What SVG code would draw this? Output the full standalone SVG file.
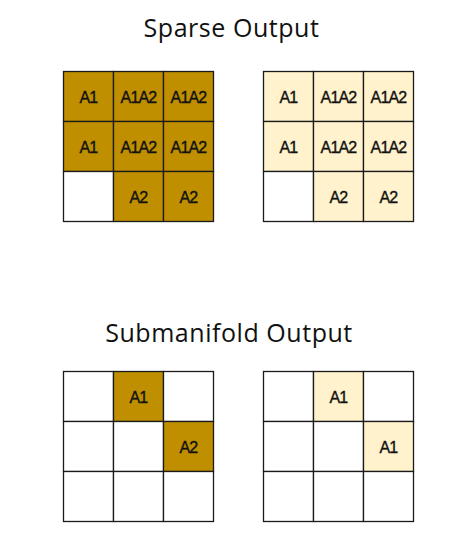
<svg xmlns="http://www.w3.org/2000/svg" width="468" height="534" viewBox="0 0 468 534">
<style>
.t{font-family:"Open Sans","Liberation Sans",sans-serif;font-size:25px;letter-spacing:0.55px;fill:#111;text-anchor:middle}
.c{stroke:#1a1a1a;stroke-width:1.3}
.d{fill:#BF8F00}
.l{fill:#FFF2CC}
.w{fill:#ffffff}
.x{font-family:"Liberation Sans",Arial,sans-serif;font-size:16px;letter-spacing:-0.8px;fill:#111;stroke:#111;stroke-width:0.35;text-anchor:middle}
</style>
<rect width="468" height="534" fill="#ffffff"/>
<text class="t" x="231.5" y="37">Sparse Output</text>
<text class="t" x="229" y="342">Submanifold Output</text>
<g id="sparse-dark">
<rect class="c d" x="63.5" y="71.5" width="50" height="50"/><text class="x" x="88.5" y="102.5">A1</text>
<rect class="c d" x="113.5" y="71.5" width="50" height="50"/><text class="x" x="138.5" y="102.5">A1A2</text>
<rect class="c d" x="163.5" y="71.5" width="50" height="50"/><text class="x" x="188.5" y="102.5">A1A2</text>
<rect class="c d" x="63.5" y="121.5" width="50" height="50"/><text class="x" x="88.5" y="152.5">A1</text>
<rect class="c d" x="113.5" y="121.5" width="50" height="50"/><text class="x" x="138.5" y="152.5">A1A2</text>
<rect class="c d" x="163.5" y="121.5" width="50" height="50"/><text class="x" x="188.5" y="152.5">A1A2</text>
<rect class="c w" x="63.5" y="171.5" width="50" height="50"/>
<rect class="c d" x="113.5" y="171.5" width="50" height="50"/><text class="x" x="138.5" y="202.5">A2</text>
<rect class="c d" x="163.5" y="171.5" width="50" height="50"/><text class="x" x="188.5" y="202.5">A2</text>
</g>
<g id="sparse-light">
<rect class="c l" x="263.5" y="71.5" width="50" height="50"/><text class="x" x="288.5" y="102.5">A1</text>
<rect class="c l" x="313.5" y="71.5" width="50" height="50"/><text class="x" x="338.5" y="102.5">A1A2</text>
<rect class="c l" x="363.5" y="71.5" width="50" height="50"/><text class="x" x="388.5" y="102.5">A1A2</text>
<rect class="c l" x="263.5" y="121.5" width="50" height="50"/><text class="x" x="288.5" y="152.5">A1</text>
<rect class="c l" x="313.5" y="121.5" width="50" height="50"/><text class="x" x="338.5" y="152.5">A1A2</text>
<rect class="c l" x="363.5" y="121.5" width="50" height="50"/><text class="x" x="388.5" y="152.5">A1A2</text>
<rect class="c w" x="263.5" y="171.5" width="50" height="50"/>
<rect class="c l" x="313.5" y="171.5" width="50" height="50"/><text class="x" x="338.5" y="202.5">A2</text>
<rect class="c l" x="363.5" y="171.5" width="50" height="50"/><text class="x" x="388.5" y="202.5">A2</text>
</g>
<g id="submanifold-dark">
<rect class="c w" x="63.5" y="371.5" width="50" height="50"/>
<rect class="c d" x="113.5" y="371.5" width="50" height="50"/><text class="x" x="138.5" y="402.5">A1</text>
<rect class="c w" x="163.5" y="371.5" width="50" height="50"/>
<rect class="c w" x="63.5" y="421.5" width="50" height="50"/>
<rect class="c w" x="113.5" y="421.5" width="50" height="50"/>
<rect class="c d" x="163.5" y="421.5" width="50" height="50"/><text class="x" x="188.5" y="452.5">A2</text>
<rect class="c w" x="63.5" y="471.5" width="50" height="50"/>
<rect class="c w" x="113.5" y="471.5" width="50" height="50"/>
<rect class="c w" x="163.5" y="471.5" width="50" height="50"/>
</g>
<g id="submanifold-light">
<rect class="c w" x="263.5" y="371.5" width="50" height="50"/>
<rect class="c l" x="313.5" y="371.5" width="50" height="50"/><text class="x" x="338.5" y="402.5">A1</text>
<rect class="c w" x="363.5" y="371.5" width="50" height="50"/>
<rect class="c w" x="263.5" y="421.5" width="50" height="50"/>
<rect class="c w" x="313.5" y="421.5" width="50" height="50"/>
<rect class="c l" x="363.5" y="421.5" width="50" height="50"/><text class="x" x="388.5" y="452.5">A1</text>
<rect class="c w" x="263.5" y="471.5" width="50" height="50"/>
<rect class="c w" x="313.5" y="471.5" width="50" height="50"/>
<rect class="c w" x="363.5" y="471.5" width="50" height="50"/>
</g>
<g id="connectors"></g>
</svg>
